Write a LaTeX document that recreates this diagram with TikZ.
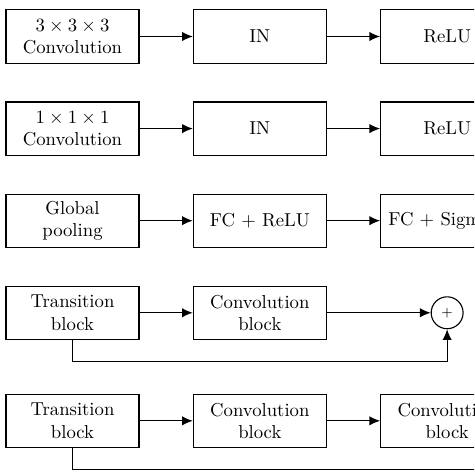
\documentclass[tikz,border=0pt]{standalone}
\usetikzlibrary{positioning,arrows.meta}
\begin{document}
\begin{tikzpicture}[>={Latex[length=2mm,width=1.75mm]}, semithick,
        block/.style={draw, minimum width=2.5cm, minimum height=1cm, align=center, inner sep=2pt},
        adder/.style={draw, circle, minimum size=0.6cm, inner sep=0pt, font=\scriptsize}]
        % keep the page square and cut what runs over the right edge
        \useasboundingbox (0,0) rectangle (8.91,-8.91);
        \clip (0,0) rectangle (8.91,-8.91);

        % first column
        \node[block] (conv3) at (1.363,-0.686) {$3\times3\times3$\\Convolution};
        \node[block, below=0.71cm of conv3] (conv1) {$1\times1\times1$\\Convolution};
        \node[block, below=0.71cm of conv1] (pool) {Global\\pooling};
        \node[block, below=0.71cm of pool] (trans4) {Transition\\block};
        \node[block, below=1.01cm of trans4] (trans5) {Transition\\block};

        % second column
        \node[block, right=1cm of conv3] (in3) {IN};
        \node[block, right=1cm of conv1] (in1) {IN};
        \node[block, right=1cm of pool] (fcrelu) {FC + ReLU};
        \node[block, right=1cm of trans4] (cblock4) {Convolution\\block};
        \node[block, right=1cm of trans5] (cblock5) {Convolution\\block};

        % third column
        \node[block, right=1cm of in3] (relu3) {ReLU};
        \node[block, right=1cm of in1] (relu1) {ReLU};
        \node[block, right=1cm of fcrelu] (fcsig) {FC + Sigmoid};
        \node[adder] (add4) at (fcsig |- cblock4) {$+$};
        \node[block, right=1cm of cblock5] (cblock5b) {Convolution\\block};

        % arrows along the rows
        \foreach \a/\b in {conv3/in3, in3/relu3, conv1/in1, in1/relu1,
                pool/fcrelu, fcrelu/fcsig, trans4/cblock4, cblock4/add4,
                trans5/cblock5, cblock5/cblock5b}
                \draw[->] (\a) -- (\b);

        % skip connections
        \coordinate[below=0.4cm of trans4.south] (low4);
        \draw[->] (trans4.south) -- (low4) -| (add4.south);
        \coordinate[below=0.4cm of trans5.south] (low5);
        \coordinate[right=9cm of low5] (end5);
        \draw (trans5.south) -- (low5) -- (end5);
\end{tikzpicture}
\end{document}
